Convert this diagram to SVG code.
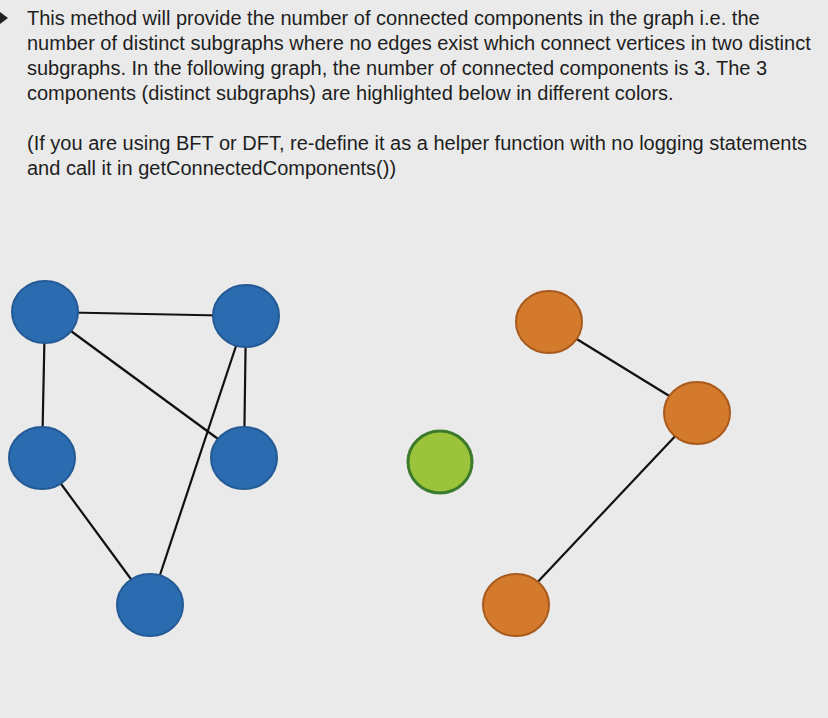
<svg xmlns="http://www.w3.org/2000/svg" width="828" height="718" viewBox="0 0 828 718">
<style>
.t{font-family:"Liberation Sans",Arial,sans-serif;font-size:20px;fill:#1e1e1e}
.e{stroke:#111;stroke-width:2.2;fill:none}
.b{fill:#2b6cb0;stroke:#245a95;stroke-width:2}
.o{fill:#d37a2c;stroke:#a85a1c;stroke-width:2}
.g{fill:#9cc43a;stroke:#3c7a2c;stroke-width:3}
</style>
<rect width="828" height="718" fill="#eaeaea"/>
<path d="M0 12 L8 18 L0 24 Z" fill="#222"/>
<text class="t" x="27" y="25">This method will provide the number of connected components in the graph i.e. the</text>
<text class="t" x="27" y="50">number of distinct subgraphs where no edges exist which connect vertices in two distinct</text>
<text class="t" x="27" y="75">subgraphs. In the following graph, the number of connected components is 3. The 3</text>
<text class="t" x="27" y="100">components (distinct subgraphs) are highlighted below in different colors.</text>
<text class="t" x="27" y="150">(If you are using BFT or DFT, re-define it as a helper function with no logging statements</text>
<text class="t" x="27" y="175">and call it in getConnectedComponents())</text>
<g id="connectors">
<line class="e" x1="45" y1="312" x2="246" y2="316"/>
<line class="e" x1="45" y1="312" x2="42" y2="458"/>
<line class="e" x1="45" y1="312" x2="244" y2="458"/>
<line class="e" x1="246" y1="316" x2="244" y2="458"/>
<line class="e" x1="238" y1="340" x2="150" y2="605"/>
<line class="e" x1="42" y1="458" x2="150" y2="605"/>
<line class="e" x1="549" y1="322" x2="697" y2="413"/>
<line class="e" x1="697" y1="413" x2="516" y2="605"/>
</g>
<g id="nA"><ellipse class="b" cx="45" cy="312" rx="33" ry="31"/></g>
<g id="nB"><ellipse class="b" cx="246" cy="316" rx="33" ry="31"/></g>
<g id="nC"><ellipse class="b" cx="42" cy="458" rx="33" ry="31"/></g>
<g id="nD"><ellipse class="b" cx="244" cy="458" rx="33" ry="31"/></g>
<g id="nE"><ellipse class="b" cx="150" cy="605" rx="33" ry="31"/></g>
<g id="nG"><ellipse class="g" cx="440" cy="462" rx="32" ry="31"/></g>
<g id="nF"><ellipse class="o" cx="549" cy="322" rx="33" ry="31"/></g>
<g id="nH"><ellipse class="o" cx="697" cy="413" rx="33" ry="31"/></g>
<g id="nI"><ellipse class="o" cx="516" cy="605" rx="33" ry="31"/></g>
</svg>
